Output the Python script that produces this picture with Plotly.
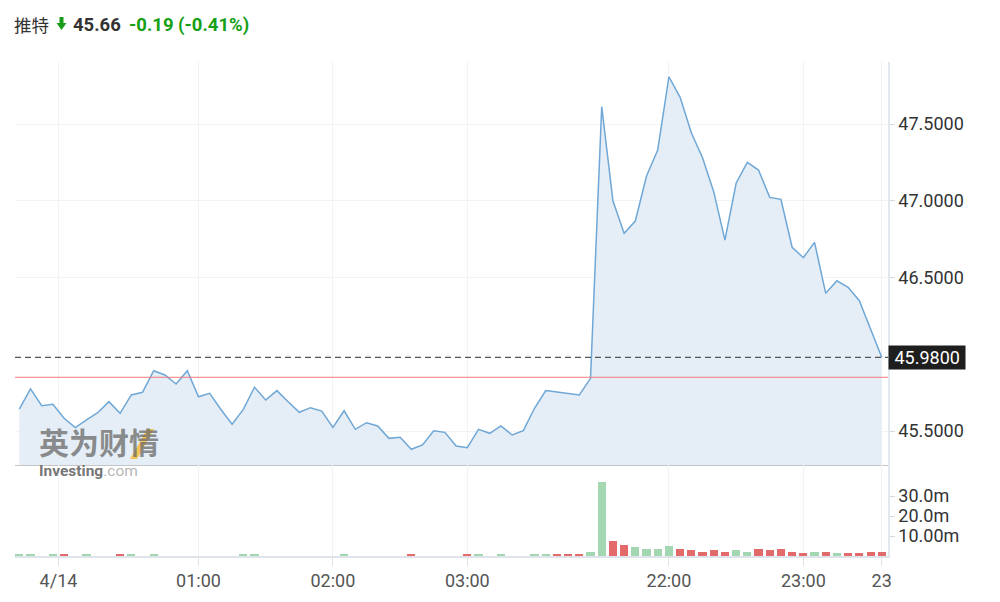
import plotly.graph_objects as go

# ---------------- data ----------------
price = [45.643, 45.774, 45.665, 45.674, 45.583, 45.522, 45.572, 45.619, 45.691, 45.615,
         45.735, 45.752, 45.893, 45.865, 45.806, 45.893, 45.723, 45.745, 45.640, 45.544,
         45.641, 45.785, 45.702, 45.763, 45.691, 45.622, 45.652, 45.630, 45.524, 45.632,
         45.511, 45.554, 45.533, 45.452, 45.459, 45.381, 45.409, 45.502, 45.491, 45.402,
         45.391, 45.511, 45.485, 45.533, 45.474, 45.502, 45.648, 45.763, 45.754, 45.745,
         45.735, 45.843, 47.613, 47.000, 46.788, 46.868, 47.161, 47.331, 47.808, 47.674,
         47.443, 47.280, 47.059, 46.744, 47.114, 47.250, 47.200, 47.022, 47.009, 46.697,
         46.629, 46.729, 46.397, 46.479, 46.436, 46.349, 46.158, 45.980]

volume_m = [0.6, 0.6, 0, 0.6, 0.6, 0, 0.6, 0, 0, 0.6,
            0.6, 0, 0.6, 0, 0, 0, 0, 0, 0, 0,
            0.6, 0.6, 0, 0, 0, 0, 0, 0, 0, 0.6,
            0, 0, 0, 0, 0, 0.6, 0, 0, 0, 0,
            0.6, 0.6, 0, 0.6, 0, 0, 0.6, 0.6, 0.6, 0.6,
            0.6, 2.2, 37.2, 7.7, 5.3, 4.5, 3.7, 3.7, 5.2, 3.7,
            2.8, 2.2, 3.0, 2.2, 2.8, 2.2, 3.7, 2.8, 3.7, 2.2,
            1.5, 2.0, 2.2, 1.5, 1.5, 1.5, 2.2, 2.2]

x_tick_pos = [3.5, 16, 28, 40, 58, 70, 77]
x_tick_text = ["4/14", "01:00", "02:00", "03:00", "22:00", "23:00", "23"]

price_ticks = [45.5, 46.5, 47.0, 47.5]
vol_ticks = [10, 20, 30]
vol_tick_text = ["10.00m", "20.0m", "30.0m"]

last_price = 45.98
prev_close = 45.85
title_name = "推特"
title_price = "45.66"
title_change = "-0.19 (-0.41%)"

# ---------------- figure ----------------
idx = list(range(len(price)))
GREEN = "#a3d7b2"
RED = "#e36a6a"
colors = [GREEN if i == 0 or price[i] >= price[i - 1] else RED for i in idx]

# page body has an 8px margin: figure origin sits at (8, 8) in the window
OFF = 8
FIG_W, FIG_H = 1000 - OFF, 602 - OFF
L, R, T, B = 15, 888, 62, 556          # plot area in window pixels
W, H = R - L, B - T


def px(x):
    return (x - L) / W


def py(y):
    return (B - y) / H


fig = go.Figure()
fig.add_trace(go.Scatter(
    x=idx, y=price, mode="lines", fill="tozeroy",
    line=dict(color="#6fa7d6", width=1.5), fillcolor="#e5eef6",
    xaxis="x", yaxis="y", hoverinfo="skip", showlegend=False))
fig.add_trace(go.Bar(
    x=idx, y=volume_m, marker=dict(color=colors, line=dict(width=0)),
    width=0.72, xaxis="x2", yaxis="y2", hoverinfo="skip", showlegend=False))

font_main = "Roboto, Arial, sans-serif"
TICK_SIZE = 18
price_split = py(465)

fig.update_layout(
    width=FIG_W, height=FIG_H,
    margin=dict(l=L - OFF, r=FIG_W - (R - OFF), t=T - OFF, b=FIG_H - (B - OFF)),
    paper_bgcolor="white", plot_bgcolor="white",
    font=dict(family=font_main, size=TICK_SIZE, color="#333"),
    bargap=0,
    xaxis=dict(domain=[0, 1], range=[-0.384, 77.56], anchor="y",
               tickvals=x_tick_pos, showticklabels=False, ticks="",
               showgrid=True, gridcolor="#f0f2f5", gridwidth=1,
               showline=True, linecolor="#c4c4c4", linewidth=1, zeroline=False),
    xaxis2=dict(domain=[0, 1], range=[-0.384, 77.56], anchor="y2", matches="x",
                tickvals=x_tick_pos, ticktext=x_tick_text,
                ticks="outside", ticklen=8, tickcolor="#dfe4ea",
                tickfont=dict(size=TICK_SIZE, color="#555", family=font_main),
                showgrid=True, gridcolor="#f0f2f5", gridwidth=1,
                showline=True, linecolor="#dfe4ea", linewidth=1.5, zeroline=False),
    yaxis=dict(domain=[price_split, 1], range=[45.2785, 47.904], side="right",
               anchor="x", tickvals=price_ticks,
               ticktext=[f"{v:.4f}" for v in price_ticks],
               ticks="outside", ticklen=5, tickcolor="#d3d9e0",
               tickfont=dict(size=TICK_SIZE, color="#333", family=font_main),
               showgrid=True, gridcolor="#f1f3f5", gridwidth=1,
               showline=True, linecolor="#e3e8ef", linewidth=1.5, zeroline=False),
    yaxis2=dict(domain=[0, price_split], range=[0, 45.5], side="right",
                anchor="x2", tickvals=vol_ticks, ticktext=vol_tick_text,
                ticks="outside", ticklen=5, tickcolor="#d3d9e0",
                tickfont=dict(size=TICK_SIZE, color="#333", family=font_main),
                showgrid=False, showline=True, linecolor="#e3e8ef",
                linewidth=1.5, zeroline=False),
)

shapes = [
    # previous close (red)
    dict(type="line", xref="paper", yref="y", x0=0, x1=1,
         y0=prev_close, y1=prev_close, line=dict(color="#f27a7a", width=1)),
    # last price (dashed)
    dict(type="line", xref="paper", yref="y", x0=0, x1=1,
         y0=last_price, y1=last_price,
         line=dict(color="#555", width=1.3, dash="6px,4px")),
    # green down arrow in header
    dict(type="path", xref="paper", yref="paper",
         path=(f"M {px(59.5)},{py(17)} L {px(63.5)},{py(17)} L {px(63.5)},{py(23)} "
               f"L {px(66.5)},{py(23)} L {px(61.5)},{py(30)} L {px(56.5)},{py(23)} "
               f"L {px(59.5)},{py(23)} Z"),
         fillcolor="#1a9c1a", line=dict(width=0)),
    # watermark slash (yellow wedge)
    dict(type="path", xref="paper", yref="paper",
         path=(f"M {px(130)},{py(459)} L {px(137)},{py(459)} L {px(154)},{py(429)} "
               f"L {px(147)},{py(429)} Z"),
         fillcolor="rgba(245,190,70,0.9)", line=dict(width=0)),
    # right border of container
    dict(type="line", xref="paper", yref="paper",
         x0=px(997), x1=px(997), y0=py(60), y1=py(602),
         line=dict(color="#e6e6e6", width=1)),
]
fig.update_layout(shapes=shapes)

annotations = [
    dict(xref="paper", yref="y", x=1.0, y=last_price, xanchor="left",
         yanchor="middle", text=f" {last_price:.4f} ", showarrow=False,
         bgcolor="#1e1e1e", borderpad=1,
         font=dict(color="white", size=TICK_SIZE, family=font_main)),
    dict(xref="paper", yref="paper", x=px(12), y=py(25), xanchor="left",
         yanchor="middle", text=title_name, showarrow=False,
         font=dict(family="Noto Sans CJK SC", size=17.5, color="#333")),
    dict(xref="paper", yref="paper", x=px(71), y=py(25), xanchor="left",
         yanchor="middle", text=f"<b>{title_price}</b>", showarrow=False,
         font=dict(family=font_main, size=18.5, color="#333")),
    dict(xref="paper", yref="paper", x=px(127), y=py(25), xanchor="left",
         yanchor="middle", text=f"<b>{title_change}</b>", showarrow=False,
         font=dict(family=font_main, size=18.5, color="#15a015")),
    # watermark
    dict(xref="paper", yref="paper", x=px(37), y=py(441), xanchor="left",
         yanchor="middle", text="<b>英为财情</b>", showarrow=False,
         font=dict(family="Noto Sans CJK SC", size=30, color="rgba(110,110,110,0.78)")),
    dict(xref="paper", yref="paper", x=px(37), y=py(471), xanchor="left",
         yanchor="middle",
         text="<b>Investing</b><span style='color:rgba(150,150,150,0.8)'>.com</span>",
         showarrow=False,
         font=dict(family=font_main, size=15.5, color="rgba(100,100,100,0.9)")),
]
fig.update_layout(annotations=annotations)

fig.write_html("out.html")
